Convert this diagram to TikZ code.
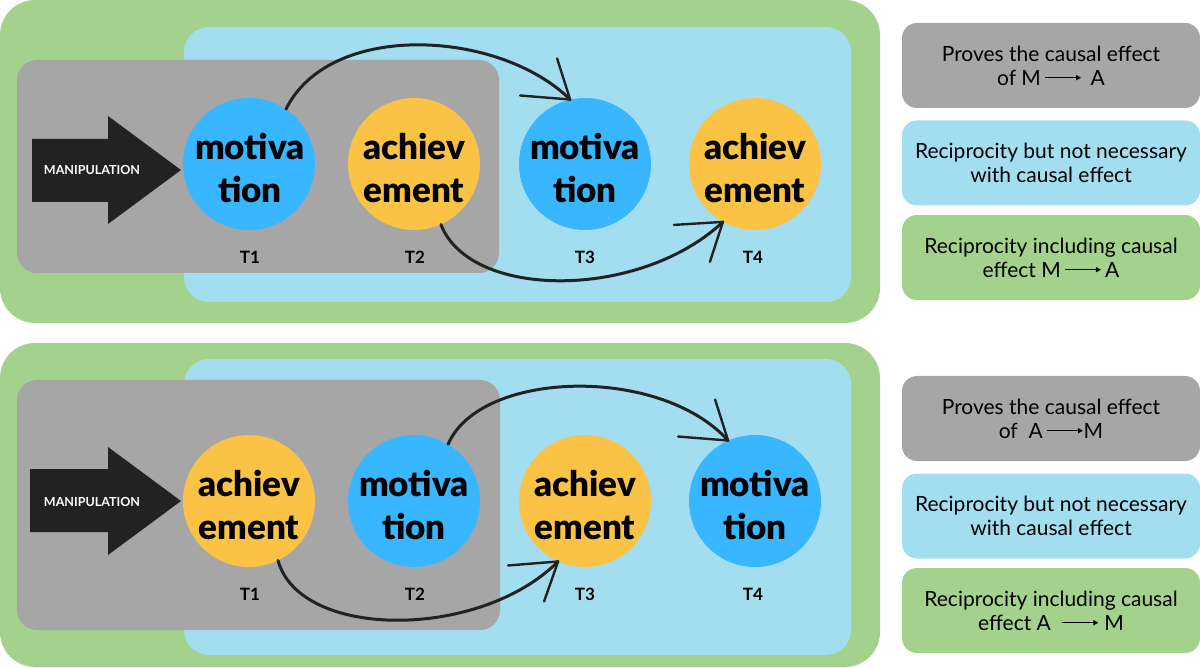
\documentclass[tikz,border=0pt]{standalone}
\usepackage{fontspec}
\setmainfont{Lato}
\newfontfamily\heavyfont{Lato Black}
\usetikzlibrary{arrows.meta}
\definecolor{pgreen}{RGB}{162,210,140}
\definecolor{pblue}{RGB}{162,222,240}
\definecolor{pgray}{RGB}{166,166,166}
\definecolor{cblue}{RGB}{56,182,255}
\definecolor{corange}{RGB}{251,195,70}
\definecolor{dark}{RGB}{34,34,34}
\newcommand\tarr{\tikz[baseline=-0.7ex]\draw[line width=1.4pt,-{Triangle[length=5pt,width=5pt]}](0pt,0pt)--(36pt,0pt);}
\begin{document}
\begin{tikzpicture}[x=1pt,y=-1pt,
  circ/.style={circle, minimum size=132pt, inner sep=0pt},
  ctext/.style={font=\fontsize{35}{43}\selectfont\heavyfont, align=center, inner sep=0pt},
  tlab/.style={font=\fontsize{17}{20}\selectfont\bfseries, inner sep=0pt},
  mtext/.style={font=\fontsize{12.5}{14}\selectfont\bfseries, text=white, inner sep=0pt},
  legend/.style={rounded corners=15pt, minimum width=298pt, minimum height=85pt, align=center, font=\fontsize{21}{24}\selectfont, inner sep=0pt},
  arc/.style={line width=3pt, line cap=round, line join=round, draw=dark},
  tip/.style={line width=2.4pt, line cap=round, line join=round, draw=dark}]
\useasboundingbox (0,0) rectangle (1200,668);

% ---------- top panel ----------
\fill[pgreen, rounded corners=35pt] (0,0) rectangle (880,323);
\fill[pblue, rounded corners=25pt] (184,27) rectangle (851,302);
\fill[pgray, rounded corners=20pt] (17,60) rectangle (499,273);
\fill[dark] (32,139) -- (108,139) -- (108,116) -- (181,170) -- (108,224) -- (108,202) -- (32,202) -- cycle;
\node[mtext] (man1) at (92,170) {MANIPULATION};

\node[circ, fill=cblue] (c1) at (249,164) {};
\node[circ, fill=corange] (c2) at (414,164) {};
\node[circ, fill=cblue] (c3) at (585,164) {};
\node[circ, fill=corange] (c4) at (755,164) {};
\node[ctext] (c1t) at (250,168) {motiva\\tion};
\node[ctext] (c2t) at (414,168) {achiev\\ement};
\node[ctext] (c3t) at (585,168) {motiva\\tion};
\node[ctext] (c4t) at (755,168) {achiev\\ement};
\node[tlab] (tt1) at (250,257) {T1};
\node[tlab] (tt2) at (415,257) {T2};
\node[tlab] (tt3) at (585,257) {T3};
\node[tlab] (tt4) at (753,257) {T4};

\draw[arc] (c1.56) .. controls (330,20) and (500,30) .. (c3.103);
\draw[tip] (c3.103) ++(-50,-4) -- (c3.103) -- ++(-13,-41);
\draw[arc] (c2.-66) .. controls (470,300) and (640,300) .. (c4.-119);
\draw[tip] (c4.-119) ++(-49,3) -- (c4.-119) -- ++(-13,40);

\node[legend, fill=pgray] (l1) at (1051,65.5) {Proves the causal effect\\of M\,\tarr\, A};
\node[legend, fill=pblue] (l2) at (1051,163) {Reciprocity but not necessary\\with causal effect};
\node[legend, fill=pgreen] (l3) at (1051,257.5) {Reciprocity including causal\\effect M\,\tarr\,A};

% ---------- bottom panel ----------
\fill[pgreen, rounded corners=35pt] (0,343) rectangle (880,667);
\fill[pblue, rounded corners=25pt] (184,359) rectangle (851,655);
\fill[pgray, rounded corners=20pt] (17,380) rectangle (500,630);
\fill[dark] (30,469) -- (108,469) -- (108,447) -- (181,501) -- (108,555) -- (108,532) -- (30,532) -- cycle;
\node[mtext] (man2) at (92,502) {MANIPULATION};

\node[circ, fill=corange] (d1) at (249,501) {};
\node[circ, fill=cblue] (d2) at (414,501) {};
\node[circ, fill=corange] (d3) at (585,501) {};
\node[circ, fill=cblue] (d4) at (755,501) {};
\node[ctext] (d1t) at (249,505) {achiev\\ement};
\node[ctext] (d2t) at (414,505) {motiva\\tion};
\node[ctext] (d3t) at (585,505) {achiev\\ement};
\node[ctext] (d4t) at (755,505) {motiva\\tion};
\node[tlab] (bt1) at (250,594) {T1};
\node[tlab] (bt2) at (415,594) {T2};
\node[tlab] (bt3) at (585,594) {T3};
\node[tlab] (bt4) at (753,594) {T4};

\draw[arc] (d2.59) .. controls (480,370) and (660,365) .. (d4.114);
\draw[tip] (d4.114) ++(-50,-4) -- (d4.114) -- ++(-13,-41);
\draw[arc] (d1.-64) .. controls (300,640) and (480,640) .. (d3.-114);
\draw[tip] (d3.-114) ++(-50,4) -- (d3.-114) -- ++(-14,40);

\node[legend, fill=pgray] (m1) at (1051,418.5) {Proves the causal effect\\of\ \ A\,\tarr M};
\node[legend, fill=pblue] (m2) at (1051,516) {Reciprocity but not necessary\\with causal effect};
\node[legend, fill=pgreen] (m3) at (1051,610.5) {Reciprocity including causal\\effect A\ \ \tarr\ M};
\end{tikzpicture}
\end{document}
